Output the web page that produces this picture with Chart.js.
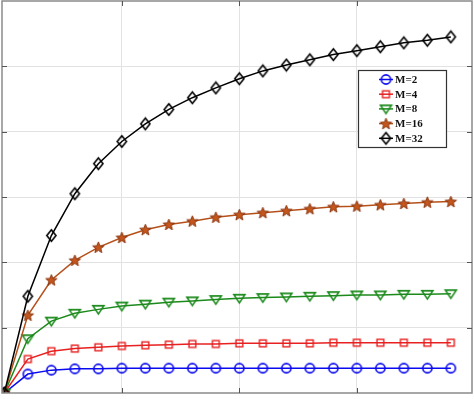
<!DOCTYPE html>
<html>
<head>
<meta charset="utf-8">
<title>Curves for M = 2 ... 32</title>
<script src="https://cdn.jsdelivr.net/npm/chart.js@4/dist/chart.umd.min.js"></script>
<style>
    html, body { margin: 0; padding: 0; background: #ffffff; }
    #chart-box { width: 474px; height: 399px; }
</style>
</head>
<body>
<div id="chart-box"><canvas id="curve-chart" width="474" height="399"></canvas></div>
<script>
// --- DATA (one grid step = 1 unit) ---
const xValues = [0, 1, 2, 3, 4, 5, 6, 7, 8, 9, 10, 11, 12, 13, 14, 15, 16, 17, 18, 19];
const xGridTicks = [5, 10, 15];
const yGridTicks = [1, 2, 3, 4, 5];

const seriesLabels = ['M=2', 'M=4', 'M=8', 'M=16', 'M=32'];
const m2Values = [0, 0.29, 0.35, 0.37, 0.37, 0.38, 0.38, 0.38, 0.38, 0.38, 0.38, 0.38, 0.38, 0.38, 0.38, 0.38, 0.38, 0.38, 0.38, 0.38];
const m4Values = [0, 0.52, 0.64, 0.68, 0.70, 0.72, 0.73, 0.74, 0.75, 0.75, 0.76, 0.76, 0.76, 0.76, 0.77, 0.77, 0.77, 0.77, 0.77, 0.77];
const m8Values = [0, 0.83, 1.10, 1.22, 1.28, 1.33, 1.36, 1.39, 1.41, 1.43, 1.45, 1.46, 1.47, 1.48, 1.49, 1.50, 1.50, 1.51, 1.51, 1.52];
const m16Values = [0, 1.19, 1.73, 2.03, 2.23, 2.38, 2.50, 2.58, 2.63, 2.69, 2.73, 2.76, 2.79, 2.82, 2.85, 2.86, 2.88, 2.90, 2.92, 2.93];
const m32Values = [0, 1.48, 2.41, 3.05, 3.51, 3.85, 4.12, 4.34, 4.52, 4.67, 4.81, 4.93, 5.02, 5.10, 5.18, 5.24, 5.30, 5.36, 5.40, 5.45];

// --- MARKERS (small canvases used as point styles, MATLAB look) ---
const makeMarker = (size, draw) => {
    const c = document.createElement('canvas');
    c.width = size;
    c.height = size;
    const ctx = c.getContext('2d');
    draw(ctx, size / 2);
    return c;
};

const circleMarker = makeMarker(13, (ctx, m) => {
    ctx.strokeStyle = '#0a0af0';
    ctx.lineWidth = 1.6;
    ctx.beginPath();
    ctx.arc(m, m, 4.6, 0, Math.PI * 2);
    ctx.stroke();
});

const squareMarker = makeMarker(11, (ctx, m) => {
    ctx.strokeStyle = '#e82020';
    ctx.lineWidth = 1.4;
    ctx.strokeRect(m - 3.4, m - 3.4, 6.8, 6.8);
});

const triangleMarker = makeMarker(15, (ctx, m) => {
    ctx.strokeStyle = '#1b8a1b';
    ctx.lineWidth = 1.6;
    ctx.beginPath();
    ctx.moveTo(m - 5.5, m - 3.6);
    ctx.lineTo(m + 5.5, m - 3.6);
    ctx.lineTo(m, m + 4.6);
    ctx.closePath();
    ctx.stroke();
});

const starMarker = makeMarker(15, (ctx, m) => {
    ctx.fillStyle = '#c4561c';
    ctx.strokeStyle = '#8a3510';
    ctx.lineWidth = 1;
    ctx.beginPath();
    for (let i = 0; i < 10; i++) {
        const r = i % 2 === 0 ? 6 : 2.5;
        const a = -Math.PI / 2 + i * Math.PI / 5;
        const px = m + r * Math.cos(a);
        const py = m + 0.5 + r * Math.sin(a);
        if (i === 0) ctx.moveTo(px, py); else ctx.lineTo(px, py);
    }
    ctx.closePath();
    ctx.fill();
    ctx.stroke();
});

const diamondMarker = makeMarker(15, (ctx, m) => {
    ctx.strokeStyle = '#000000';
    ctx.lineWidth = 1.6;
    ctx.beginPath();
    ctx.moveTo(m, m - 5.8);
    ctx.lineTo(m + 4.6, m);
    ctx.lineTo(m, m + 5.8);
    ctx.lineTo(m - 4.6, m);
    ctx.closePath();
    ctx.stroke();
});

const seriesValues = [m2Values, m4Values, m8Values, m16Values, m32Values];
const seriesColors = ['#0a0af0', '#e82020', '#1b8a1b', '#b5501a', '#000000'];
const seriesMarkers = [circleMarker, squareMarker, triangleMarker, starMarker, diamondMarker];

// Builds the {x, y} points for one series.
const toPoints = (values) => values.map((v, i) => ({ x: xValues[i], y: v }));

const datasets = seriesLabels.map((label, i) => ({
    label,
    data: toPoints(seriesValues[i]),
    borderColor: seriesColors[i],
    borderWidth: 1.5,
    pointStyle: seriesMarkers[i],
    pointRadius: 5,
    tension: 0,
    fill: false,
    order: seriesLabels.length - i // M=32 drawn on top
}));

// --- PLUGINS ---

// Axis box with the small inward ticks on all four sides.
const axisBoxPlugin = {
    id: 'axisBox',
    afterDatasetsDraw(chart) {
        const { ctx, chartArea: a, scales } = chart;
        ctx.save();
        ctx.strokeStyle = '#8a8a8a';
        ctx.lineWidth = 1.5;
        ctx.strokeRect(a.left, a.top, a.right - a.left, a.bottom - a.top);
        ctx.lineWidth = 1;
        ctx.strokeStyle = '#555555';
        ctx.beginPath();
        xGridTicks.forEach(v => {
            const px = Math.round(scales.x.getPixelForValue(v)) + 0.5;
            ctx.moveTo(px, a.bottom); ctx.lineTo(px, a.bottom - 5);
            ctx.moveTo(px, a.top); ctx.lineTo(px, a.top + 5);
        });
        yGridTicks.forEach(v => {
            const py = Math.round(scales.y.getPixelForValue(v)) + 0.5;
            ctx.moveTo(a.left, py); ctx.lineTo(a.left + 5, py);
            ctx.moveTo(a.right, py); ctx.lineTo(a.right - 5, py);
        });
        ctx.stroke();
        ctx.restore();
    }
};

// Legend drawn inside the plot, boxed, like the MATLAB one.
const boxLegendPlugin = {
    id: 'boxLegend',
    afterDraw(chart) {
        const { ctx, chartArea: a } = chart;
        const left = a.right - 114;
        const top = a.top + 69;
        const width = 88;
        const height = 77;
        const rowGap = 14.7;
        ctx.save();
        ctx.fillStyle = '#ffffff';
        ctx.fillRect(left, top, width, height);
        ctx.strokeStyle = '#333333';
        ctx.lineWidth = 1.2;
        ctx.strokeRect(left + 0.5, top + 0.5, width, height);
        ctx.font = 'bold 11px "Liberation Serif", "DejaVu Serif", serif';
        ctx.textBaseline = 'middle';
        chart.data.datasets.forEach((ds, i) => {
            const y = top + 9.5 + i * rowGap;
            ctx.strokeStyle = ds.borderColor;
            ctx.lineWidth = 1.5;
            ctx.beginPath();
            ctx.moveTo(left + 21, y);
            ctx.lineTo(left + 35, y);
            ctx.stroke();
            const mk = ds.pointStyle;
            ctx.drawImage(mk, left + 28 - mk.width / 2, y - mk.height / 2);
            ctx.fillStyle = '#111111';
            ctx.fillText(ds.label, left + 37, y + 0.5);
        });
        ctx.restore();
    }
};

// --- CHART ---
const canvas = document.getElementById('curve-chart');
new Chart(canvas.getContext('2d'), {
    type: 'line',
    data: { datasets },
    options: {
        responsive: false,
        animation: false,
        events: [],
        layout: { autoPadding: false, padding: { left: 2, right: 2, top: 1, bottom: 6 } },
        plugins: { legend: { display: false }, tooltip: { enabled: false } },
        scales: {
            x: {
                type: 'linear',
                min: -0.1,
                max: 19.9,
                afterBuildTicks: (scale) => { scale.ticks = xGridTicks.map(v => ({ value: v })); },
                ticks: { display: false },
                grid: { color: '#e2e2e2', lineWidth: 1, drawTicks: false },
                border: { display: false }
            },
            y: {
                type: 'linear',
                min: 0,
                max: 6,
                afterBuildTicks: (scale) => { scale.ticks = yGridTicks.map(v => ({ value: v })); },
                ticks: { display: false },
                grid: { color: '#e2e2e2', lineWidth: 1, drawTicks: false },
                border: { display: false }
            }
        }
    },
    plugins: [axisBoxPlugin, boxLegendPlugin]
});
</script>
</body>
</html>
